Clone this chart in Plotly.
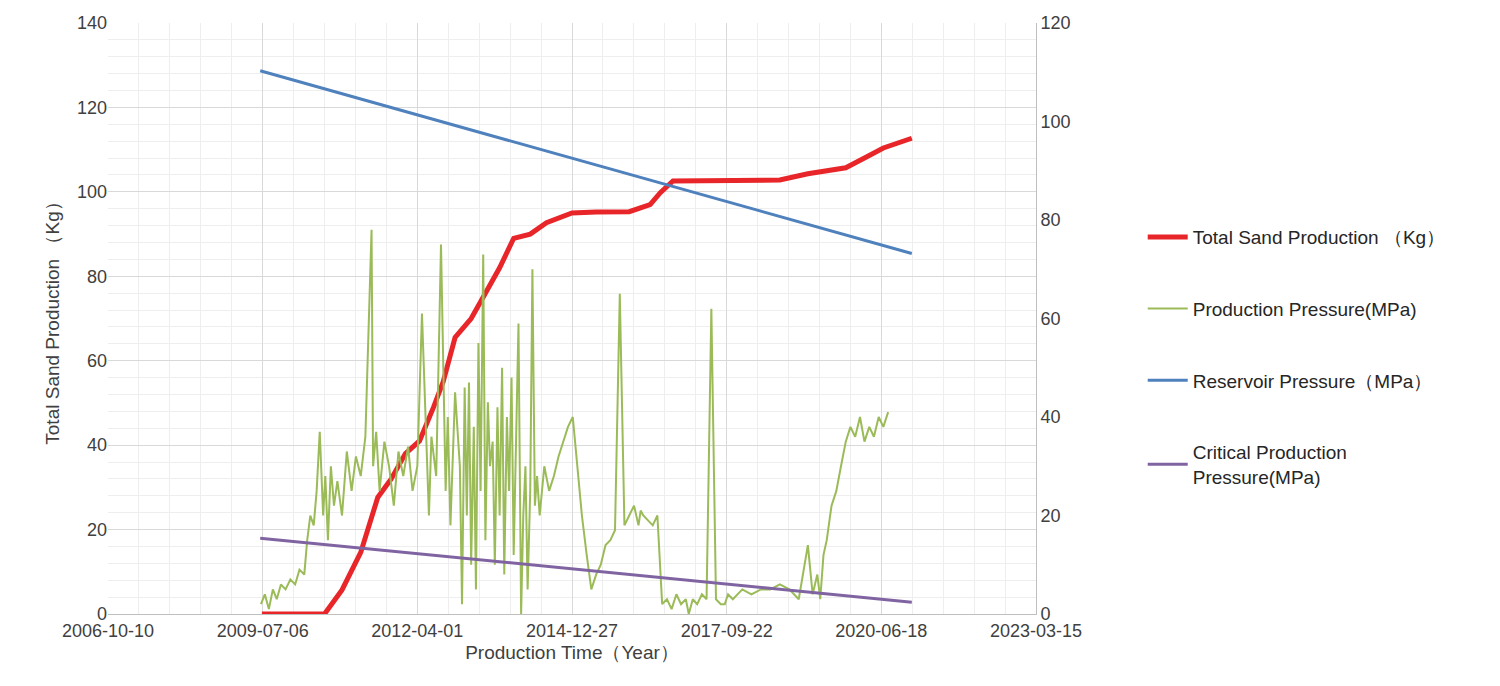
import plotly.graph_objects as go

sand_dates = ["2009-07-01","2010-08-10","2010-12-01","2011-04-01","2011-07-20","2011-10-15","2012-01-15","2012-04-15","2012-07-15","2012-09-15","2012-12-01","2013-03-15","2013-06-15","2013-09-15","2013-12-15","2014-04-01","2014-07-15","2014-12-27","2015-06-01","2016-01-01","2016-05-15","2016-07-20","2016-10-10","2017-03-01","2017-09-22","2018-09-01","2019-03-01","2019-11-01","2020-03-01","2020-07-01","2021-01-01"]
sand_vals = [0,0,5.7,14.6,27.6,32,38,41,49,55,65.5,70,76,82,89,90,92.7,95,95.2,95.3,97,99.8,102.6,102.7,102.7,102.8,104.3,105.7,108,110.4,112.7]

res_dates = ["2009-06-20","2021-01-01"]
res_vals = [110.3,73.2]
crit_dates = ["2009-06-20","2021-01-01"]
crit_vals = [15.4,2.4]

pp_dates = ["2009-06-25","2009-07-20","2009-08-15","2009-09-10","2009-10-05","2009-11-01","2009-12-01","2010-01-01","2010-02-01","2010-03-01","2010-04-01","2010-04-20","2010-05-10","2010-06-01","2010-06-20","2010-07-10","2010-08-01","2010-08-15","2010-09-01","2010-09-20","2010-10-10","2010-11-01","2010-12-01","2011-01-01","2011-02-01","2011-03-01","2011-04-01","2011-05-01","2011-06-10","2011-06-20","2011-07-10","2011-08-01","2011-09-01","2011-10-01","2011-11-01","2011-12-01","2012-01-01","2012-02-01","2012-03-01","2012-04-01","2012-05-01","2012-06-01","2012-06-15","2012-07-01","2012-08-01","2012-09-01","2012-10-01","2012-10-15","2012-11-01","2012-12-01","2013-01-01","2013-01-15","2013-02-01","2013-02-15","2013-03-01","2013-03-15","2013-04-01","2013-04-15","2013-05-01","2013-05-15","2013-06-01","2013-06-15","2013-07-01","2013-07-15","2013-08-01","2013-08-15","2013-09-01","2013-09-15","2013-10-01","2013-10-15","2013-11-01","2013-11-15","2013-12-01","2013-12-15","2014-01-01","2014-01-15","2014-02-01","2014-02-15","2014-03-01","2014-03-15","2014-04-01","2014-04-15","2014-05-01","2014-05-15","2014-06-01","2014-07-01","2014-08-01","2014-09-01","2014-10-01","2014-11-01","2014-12-01","2015-01-01","2015-02-01","2015-03-01","2015-04-01","2015-05-01","2015-06-01","2015-07-01","2015-08-01","2015-09-01","2015-10-01","2015-11-01","2015-12-01","2016-01-01","2016-02-01","2016-03-01","2016-03-15","2016-04-01","2016-05-01","2016-06-01","2016-07-01","2016-08-01","2016-09-01","2016-10-01","2016-11-01","2016-12-01","2017-01-01","2017-01-20","2017-02-15","2017-03-15","2017-04-15","2017-05-15","2017-06-15","2017-07-15","2017-08-15","2017-09-10","2017-09-20","2017-10-01","2017-11-01","2017-12-01","2018-01-01","2018-03-01","2018-05-01","2018-07-01","2018-09-01","2018-11-01","2019-01-01","2019-03-01","2019-04-01","2019-05-01","2019-05-20","2019-06-10","2019-07-01","2019-08-01","2019-09-01","2019-10-01","2019-11-01","2019-12-01","2020-01-01","2020-02-01","2020-03-01","2020-04-01","2020-05-01","2020-06-01","2020-07-01","2020-08-01","2020-09-01","2020-10-01","2020-11-01","2020-12-01","2021-01-01"]
pp_vals = [2,4,1,5,3,6,5,7,6,9,8,15,20,18,25,37,20,28,15,30,22,27,20,33,25,32,28,36,78,30,37,25,35,30,22,33,28,34,25,30,61,30,20,36,28,75,25,40,18,45,30,2,46,20,47,10,38,5,55,25,73,15,43,30,35,10,42,20,50,8,40,25,48,12,35,59,0,20,30,5,25,70,22,28,20,30,25,28,32,35,38,40,30,20,12,5,8,10,14,15,17,65,18,20,22,18,21,20,19,18,20,2,3,1,4,2,3,0,3,2,4,3,62,3,2,2,3,4,3,4,5,4,5,5,6,5,3,14,4,8,3,12,15,22,25,30,35,38,36,40,35,38,36,40,38,41]

fig = go.Figure()
fig.add_trace(go.Scatter(x=sand_dates, y=sand_vals, mode="lines", name="Total Sand Production （Kg）",
                         legendgroup="a", line=dict(color="#e8262a", width=5)))
fig.add_trace(go.Scatter(x=pp_dates, y=pp_vals, mode="lines", name="Production Pressure(MPa)", yaxis="y2",
                         legendgroup="b", line=dict(color="#9bbb59", width=2)))
fig.add_trace(go.Scatter(x=res_dates, y=res_vals, mode="lines", name="Reservoir Pressure（MPa）", yaxis="y2",
                         legendgroup="c", line=dict(color="#4f81bd", width=3)))
fig.add_trace(go.Scatter(x=crit_dates, y=crit_vals, mode="lines", name="Critical Production<br>Pressure(MPa)", yaxis="y2",
                         legendgroup="d", line=dict(color="#8064a2", width=3)))

DAY = 86400000
fig.update_layout(
    width=1500, height=686, paper_bgcolor="white", plot_bgcolor="white",
    margin=dict(l=100, r=472, t=15, b=80),
    font=dict(family="Liberation Sans, Arial", size=18, color="#404040"),
    xaxis=dict(type="date", range=["2006-10-10", "2023-03-15"], tick0="2006-10-10", dtick=1000*DAY,
               tickformat="%Y-%m-%d", showgrid=True, gridcolor="#d9d9d9", gridwidth=1.2,
               minor=dict(dtick=200*DAY, tick0="2006-10-10", showgrid=True, gridcolor="#eeeeee"),
               showline=True, linecolor="#bfbfbf", ticks="", zeroline=False, automargin=False,
               title=dict(text="Production Time（Year）", font=dict(size=19), standoff=6)),
    yaxis=dict(range=[0, 140], dtick=20, showgrid=True, gridcolor="#d9d9d9", gridwidth=1.2,
               minor=dict(dtick=4, showgrid=True, gridcolor="#eeeeee"), automargin=False,
               zeroline=False, showline=False, ticks="",
               title=dict(text="Total Sand Production （Kg）", font=dict(size=19), standoff=12)),
    yaxis2=dict(range=[0, 120], dtick=20, overlaying="y", side="right", showgrid=False, zeroline=False,
                showline=True, linecolor="#bfbfbf", ticks="", automargin=False),
    legend=dict(x=1.115, y=0.67, xanchor="left", yanchor="top", font=dict(size=19, color="#262626"),
                tracegroupgap=44, itemwidth=40, traceorder="grouped"),
)
fig.write_html("out.html")
